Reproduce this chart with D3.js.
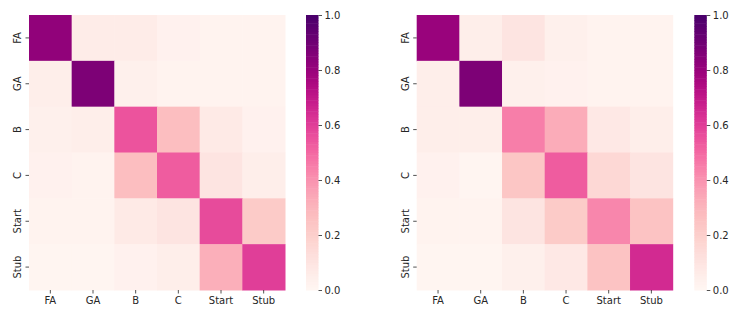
<!DOCTYPE html>
<html>
<head>
<meta charset="utf-8">
<script src="https://cdn.jsdelivr.net/npm/d3@7"></script>
<style>
  body { margin: 0; background: #fff; }
  text { font-family: "DejaVu Sans", sans-serif; font-size: 10px; fill: #262626; }
</style>
</head>
<body>
<div class="chart"></div>
<script>
// class labels (rows = true, columns = predicted)
const labels = ['FA', 'GA', 'B', 'C', 'Start', 'Stub'];

// left confusion matrix (row-normalised)
const leftMatrix = [
  [0.82, 0.06, 0.06, 0.03, 0.02, 0.02],
  [0.05, 0.87, 0.04, 0.02, 0.02, 0.02],
  [0.04, 0.05, 0.55, 0.27, 0.07, 0.03],
  [0.03, 0.02, 0.27, 0.53, 0.10, 0.05],
  [0.02, 0.02, 0.07, 0.10, 0.57, 0.22],
  [0.01, 0.01, 0.03, 0.05, 0.32, 0.60]
];

// right confusion matrix
const rightMatrix = [
  [0.80, 0.05, 0.10, 0.04, 0.02, 0.02],
  [0.05, 0.87, 0.04, 0.03, 0.02, 0.02],
  [0.05, 0.05, 0.45, 0.33, 0.08, 0.05],
  [0.03, 0.01, 0.24, 0.53, 0.16, 0.10],
  [0.02, 0.02, 0.10, 0.22, 0.43, 0.25],
  [0.01, 0.01, 0.04, 0.08, 0.25, 0.65]
];

const colorTicks = [0, 0.2, 0.4, 0.6, 0.8, 1.0];

const svg = d3.select('.chart').append('svg')
  .attr('width', 741).attr('height', 322);

const color = d3.scaleSequential(d3.interpolateRdPu).domain([0, 1]);

function drawHeatmap(matrix, left, width, cbLeft){
  const top = 15, height = 275;
  const g = svg.append('g');

  const x = d3.scaleBand().domain(labels).range([left, left + width]);
  const y = d3.scaleBand().domain(labels).range([top, top + height]);

  // cells
  const cells = [];
  matrix.forEach((row, i) => row.forEach((v, j) => cells.push({r: labels[i], c: labels[j], v: v})));
  g.selectAll('rect.cell').data(cells).join('rect')
    .attr('class', 'cell')
    .attr('x', d => x(d.c)).attr('y', d => y(d.r))
    .attr('width', x.bandwidth() + 0.5).attr('height', y.bandwidth() + 0.5)
    .attr('fill', d => color(d.v));

  // x axis
  const xAxis = g.append('g').attr('transform', `translate(0,${top + height})`)
    .call(d3.axisBottom(x).tickSize(3.5).tickPadding(3.5));
  xAxis.select('.domain').remove();
  xAxis.selectAll('line').attr('stroke', '#262626').attr('stroke-width', 0.8);
  xAxis.selectAll('text').attr('font-size', null);

  // y axis, rotated labels
  const yAxis = g.append('g').attr('transform', `translate(${left},0)`)
    .call(d3.axisLeft(y).tickSize(3.5).tickPadding(3));
  yAxis.select('.domain').remove();
  yAxis.selectAll('line').attr('stroke', '#262626').attr('stroke-width', 0.8);
  yAxis.selectAll('text')
    .attr('font-size', null)
    .attr('transform', 'rotate(-90)')
    .attr('x', 0).attr('y', -8)
    .attr('dy', 0)
    .attr('text-anchor', 'middle');

  // colorbar
  const cbW = 12.5;
  const cy = d3.scaleLinear().domain([0, 1]).range([top + height, top]);
  const steps = d3.range(0, 100);
  g.selectAll('rect.cb').data(steps).join('rect')
    .attr('class', 'cb')
    .attr('x', cbLeft)
    .attr('y', d => cy((d + 1) / 100))
    .attr('width', cbW)
    .attr('height', cy(0) - cy(0.01) + 0.5)
    .attr('fill', d => color((d + 0.5) / 100));
  const cAxis = g.append('g').attr('transform', `translate(${cbLeft + cbW},0)`)
    .call(d3.axisRight(cy).tickValues(colorTicks).tickFormat(d3.format('.1f')).tickSize(3.5).tickPadding(2.5));
  cAxis.select('.domain').remove();
  cAxis.selectAll('line').attr('stroke', '#262626').attr('stroke-width', 0.8);
  cAxis.selectAll('text').attr('font-size', null);
}

drawHeatmap(leftMatrix, 29, 256, 306);
drawHeatmap(rightMatrix, 416.7, 256, 694.3);
</script>
</body>
</html>
